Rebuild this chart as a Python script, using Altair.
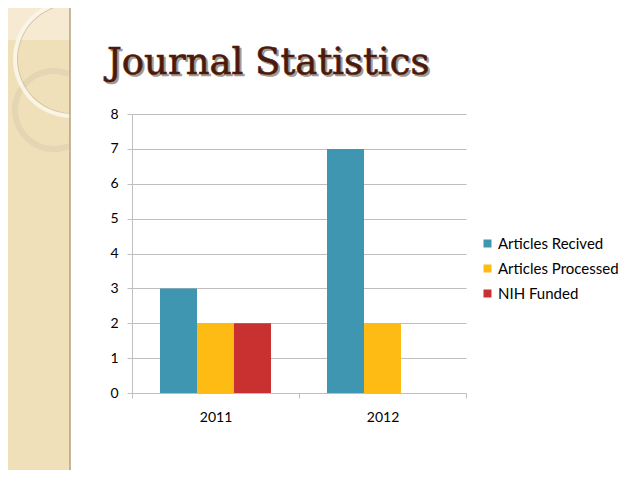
import altair as alt
import pandas as pd

years = ["2011", "2012"]
series = ["Articles Recived", "Articles Processed", "NIH Funded"]
recived = [3, 7]
processed = [2, 2]
nih = [2, 0]
colors = ["#3f96b0", "#fdbb14", "#c93131"]
y_ticks = [0, 1, 2, 3, 4, 5, 6, 7, 8]
title_text = "Journal Statistics"

rows = []
for name, vals in zip(series, [recived, processed, nih]):
    for yr, v in zip(years, vals):
        rows.append({"year": yr, "series": name, "value": v})
df = pd.DataFrame(rows)

W, H = 334, 279
PL, PT = 124, 106
PR = 622 - PL - W
PB = 462 - PT - H

one = alt.Data(values=[{"a": 1}])

strip = alt.Chart(one).mark_rect(color="#f0e0ba").encode(
    x=alt.value(-124), x2=alt.value(-62), y=alt.value(-106), y2=alt.value(356)
)
strip_top = alt.Chart(one).mark_rect(color="#f6ebd2").encode(
    x=alt.value(-124), x2=alt.value(-62), y=alt.value(-106), y2=alt.value(-74)
)
edge = alt.Chart(one).mark_rule(color="#b3a27e", strokeWidth=1.5).encode(
    x=alt.value(-62), y=alt.value(-106), y2=alt.value(356)
)
ring1 = alt.Chart(one).mark_arc(
    innerRadius=55, outerRadius=59, theta=3.17, theta2=6.25, color="#fbf6ea", opacity=0.9
).encode(x=alt.value(-60), y=alt.value(-55))
ring1b = alt.Chart(one).mark_arc(
    innerRadius=54, outerRadius=55, theta=3.17, theta2=6.25, color="#cbbd9a", opacity=0.8
).encode(x=alt.value(-60), y=alt.value(-55))
ring2 = alt.Chart(one).mark_arc(
    innerRadius=36, outerRadius=42, theta=2.74, theta2=6.68, color="#e2d5b3", opacity=0.9
).encode(x=alt.value(-78), y=alt.value(-4))

shadow = alt.Chart(one).mark_text(
    text=title_text, font="DejaVu Serif", fontSize=37, color="#a39a92",
    stroke="#a39a92", strokeWidth=0.6,
    align="left", baseline="alphabetic"
).encode(x=alt.value(-23), y=alt.value(-38))
title = alt.Chart(one).mark_text(
    text=title_text, font="DejaVu Serif", fontSize=37, color="#4b1a0c",
    stroke="#4b1a0c", strokeWidth=0.6,
    align="left", baseline="alphabetic"
).encode(x=alt.value(-25), y=alt.value(-40))

bars = alt.Chart(df).mark_bar().encode(
    x=alt.X("year:N", sort=years, title=None,
            scale=alt.Scale(paddingInner=0, paddingOuter=0),
            axis=alt.Axis(labelAngle=0, labelFont="Lato", labelFontSize=14,
                          labelColor="#000000", labelPadding=12, tickBand="extent",
                          domainColor="#bfbfbf", tickColor="#bfbfbf", tickSize=5,
                          grid=False)),
    xOffset=alt.XOffset("series:N", sort=series,
                        scale=alt.Scale(paddingInner=0, paddingOuter=0.757)),
    y=alt.Y("value:Q", title=None,
            scale=alt.Scale(domain=[0, 8], nice=False),
            axis=alt.Axis(values=y_ticks, labelFont="Lato", labelFontSize=14,
                          labelColor="#000000", labelPadding=9,
                          domainColor="#bfbfbf", tickColor="#bfbfbf", tickSize=5,
                          gridColor="#bfbfbf", gridWidth=1)),
    color=alt.Color("series:N", sort=series,
                    scale=alt.Scale(domain=series, range=colors),
                    legend=alt.Legend(title=None, orient="none", legendX=348, legendY=122,
                                      symbolType="square", symbolSize=64,
                                      symbolStrokeWidth=0, labelFont="Lato",
                                      labelFontSize=15, labelColor="#000000",
                                      rowPadding=9, padding=0, labelOffset=3)),
)

chart = alt.layer(strip, strip_top, ring2, ring1b, ring1, edge, shadow, title, bars).properties(
    width=W, height=H,
    padding={"left": PL, "top": PT, "right": PR, "bottom": PB},
    autosize=alt.AutoSizeParams(type="none"),
).configure_view(stroke=None)

chart.save("out.html", embed_options={"renderer": "svg", "actions": False})
